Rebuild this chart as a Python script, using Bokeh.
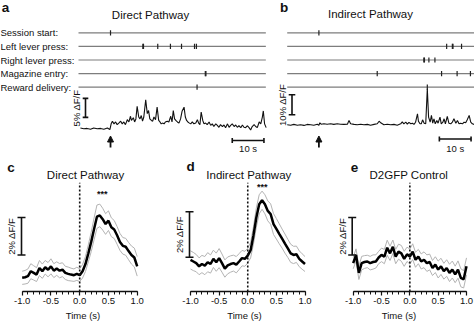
import math
from bokeh.plotting import figure
from bokeh.layouts import row, column
from bokeh.models import Range1d, Arrow, NormalHead, SingleIntervalTicker, PrintfTickFormatter
from bokeh.core.properties import value
from bokeh.embed import file_html
from bokeh.resources import INLINE

# ---------------- data ----------------
event_names = ["Session start:", "Left lever press:", "Right lever press:",
               "Magazine entry:", "Reward delivery:"]
session_len = 59.1  # s

# panel a events (s)
a_session = [10.1]
a_left = [20.3, 20.5, 25.0, 29.0, 32.5, 36.6, 37.2]
a_right = []
a_magazine = [40.0, 40.2]
a_reward = [37.4]

# panel b events (s)
b_session = [10.0]
b_left = [50.3, 52.1, 52.3, 55.0]
b_right = [43.1, 43.3, 44.7, 46.6]
b_magazine = [28.4, 48.7, 53.6, 57.8]
b_reward = [44.2]

# panel a photometry trace (time s, dF/F %)
trace_a_t = [0.6, 1.7, 2.7, 3.8, 4.8, 5.9, 7.0, 8.0, 9.1, 9.9,
             10.3, 10.7, 11.2, 11.7, 12.2, 12.7, 13.3, 13.8, 14.3, 14.8,
             15.4, 15.9, 16.4, 16.7, 17.3, 17.7, 18.1, 18.5, 19.0, 19.4,
             19.8, 20.2, 20.6, 21.2, 21.7, 22.1, 22.5, 23.0, 23.4, 23.8,
             24.3, 24.8, 25.3, 25.7, 26.1, 26.5, 27.0, 27.4, 28.0, 28.5,
             29.1, 29.5, 29.9, 30.3, 30.7, 31.2, 31.7, 32.2, 32.7, 33.3,
             33.7, 34.1, 34.5, 35.0, 35.4, 35.9, 36.4, 37.0, 37.5, 37.9,
             38.3, 38.7, 39.2, 39.6, 40.1, 40.6, 41.2, 41.7, 42.2, 42.7,
             43.3, 43.8, 44.3, 44.8, 45.4, 45.9, 46.4, 47.0, 47.5, 48.0,
             48.5, 49.1, 49.6, 50.1, 50.6, 51.2, 51.7, 52.2, 52.7, 53.3,
             53.8, 54.3, 54.8, 55.4, 55.9, 56.4, 57.0, 57.5, 58.0, 58.3,
             58.7, 59.2]
trace_a_v = [0.2, 0.0, 0.1, -0.1, 0.2, 0.0, 0.1, -0.1, 0.2, -0.2,
             1.3, 2.0, 1.3, 1.8, 1.1, 1.5, 2.0, 1.3, 1.8, 1.1,
             2.4, 1.8, 3.3, 2.2, 2.9, 1.8, 2.6, 5.9, 3.1, 2.6,
             3.5, 2.0, 3.1, 7.6, 4.0, 4.8, 2.6, 2.2, 2.0, 3.1,
             2.4, 5.7, 2.2, 1.8, 1.3, 1.5, 1.3, 1.8, 2.0, 1.8,
             3.3, 1.8, 4.8, 2.6, 2.2, 1.8, 1.5, 2.6, 4.7, 5.7,
             3.1, 2.2, 1.8, 1.5, 1.3, 1.8, 1.3, 1.5, 2.4, 1.5,
             1.1, 4.4, 2.2, 1.3, 1.5, 1.1, 1.8, 0.9, 1.3, 0.6,
             1.3, 0.9, 0.4, 1.1, 0.6, 1.0, 0.3, 1.3, 0.4, 0.9,
             1.3, 0.6, 1.0, 0.4, 0.8, 0.3, 1.0, 0.4, 0.3, 0.8,
             0.3, -0.3, 0.6, 1.1, 0.6, 0.3, 1.8, 1.3, 3.1, 4.7,
             1.3, 0.3]

# panel b photometry trace (time s, dF/F %)
trace_b_t = [0.0, 1.1, 2.1, 3.2, 4.2, 5.3, 6.3, 7.4, 8.4, 9.5,
             10.0, 10.3, 10.7, 11.6, 12.6, 13.7, 14.7, 15.8, 16.8, 17.9,
             19.0, 19.5, 20.0, 21.1, 22.1, 23.2, 24.2, 25.3, 26.3, 27.4,
             28.4, 29.0, 29.5, 30.0, 30.5, 31.6, 32.6, 33.7, 34.7, 35.8,
             36.3, 36.8, 37.4, 37.9, 38.4, 39.0, 39.5, 40.0, 40.5, 41.1,
             41.4, 41.9, 42.3, 42.7, 43.2, 43.7, 44.2, 44.6, 45.1, 45.5,
             45.9, 46.3, 46.7, 47.2, 47.6, 48.2, 48.6, 49.1, 49.5, 49.9,
             50.5, 51.0, 51.6, 52.1, 52.6, 53.2, 53.7, 54.2, 54.7, 55.3,
             55.8, 56.3, 56.8, 57.4, 57.9, 58.4, 59.0]
trace_b_v = [0.0, -0.2, 0.2, -0.2, 0.0, -0.3, 0.2, 0.0, -0.2, 0.3,
             -0.2, 1.0, 0.3, 0.5, 0.3, 0.5, 0.2, 0.5, 0.3, 0.2,
             0.3, 2.2, 0.5, 0.2, 0.0, 0.3, 0.0, 0.2, -0.2, 0.2,
             0.5, 1.8, 1.0, 0.5, 0.0, 0.3, 0.0, 0.2, -0.2, 0.5,
             1.5, 0.5, 1.3, 0.3, 1.2, 0.5, 0.8, 0.2, 1.3, 5.5,
             1.8, 0.5, 0.5, 2.5, 0.8, 0.5, 18.0, 3.8, 1.3, 4.7,
             0.8, 3.0, 0.5, 2.2, 0.8, 3.8, 0.5, 1.3, 3.0, 0.5,
             4.2, 0.8, 0.5, 1.3, 3.0, 0.8, 2.2, 0.5, 0.8, 0.5,
             1.3, 1.0, 2.5, 4.7, 1.3, 0.5, 0.2]

# peri-event averages (time s, dF/F %)
peri_t = [-1.0, -0.95, -0.9, -0.85, -0.8, -0.75, -0.7, -0.65, -0.6, -0.55,
          -0.5, -0.45, -0.4, -0.35, -0.3, -0.25, -0.2, -0.15, -0.1, -0.05,
          0.0, 0.05, 0.1, 0.15, 0.2, 0.25, 0.3, 0.35, 0.4, 0.45,
          0.5, 0.55, 0.6, 0.65, 0.7, 0.75, 0.8, 0.85, 0.9, 0.95, 1.0]
mean_c = [-0.26, -0.23, -0.17, 0.09, 0.0, -0.09, 0.26, 0.09, 0.30, 0.17,
          0.35, 0.12, 0.23, 0.12, 0.17, 0.0, -0.05, -0.09, -0.12, -0.05,
          -0.12, 0.09, 0.47, 1.04, 1.65, 2.34, 2.99, 3.06, 2.86, 2.60,
          2.78, 2.43, 2.31, 2.00, 1.65, 1.44, 1.39, 1.16, 0.95, 0.82, 0.35]
sem_c = [0.35, 0.36, 0.38, 0.40, 0.38, 0.37, 0.40, 0.38, 0.36, 0.38,
         0.40, 0.37, 0.36, 0.38, 0.37, 0.35, 0.36, 0.34, 0.33, 0.35,
         0.34, 0.36, 0.40, 0.45, 0.52, 0.58, 0.62, 0.60, 0.58, 0.55,
         0.52, 0.50, 0.48, 0.47, 0.45, 0.44, 0.45, 0.46, 0.48, 0.50, 0.52]
mean_d = [0.14, 0.07, 0.0, -0.14, -0.04, -0.11, 0.04, -0.04, 0.19, 0.04,
          0.22, 0.0, -0.24, -0.10, -0.04, 0.0, -0.07, 0.07, 0.22, 0.19,
          0.33, 0.57, 1.22, 2.01, 2.59, 2.77, 2.59, 2.30, 2.16, 1.72,
          1.51, 1.29, 1.08, 0.86, 0.65, 0.43, 0.36, 0.39, 0.19, 0.07, -0.04]
sem_d = [0.40, 0.40, 0.38, 0.37, 0.38, 0.40, 0.42, 0.40, 0.38, 0.40,
         0.42, 0.40, 0.38, 0.37, 0.36, 0.35, 0.36, 0.35, 0.34, 0.33,
         0.32, 0.34, 0.38, 0.42, 0.42, 0.40, 0.42, 0.44, 0.45, 0.46,
         0.45, 0.44, 0.42, 0.42, 0.40, 0.40, 0.38, 0.36, 0.35, 0.34, 0.33]
mean_e = [-0.09, 0.35, -0.61, -0.09, -0.03, 0.0, -0.09, -0.03, 0.0, 0.21,
          0.35, 0.26, 0.73, 0.43, 0.78, 0.26, 0.52, 0.43, 0.14, 0.38,
          0.26, 0.52, 0.09, 0.26, 0.0, 0.09, -0.09, -0.03, -0.35, -0.17,
          -0.43, -0.26, -0.52, -0.35, -0.61, -0.43, -0.69, -0.43, -0.87, -0.95, -0.26]
sem_e = [0.30, 0.32, 0.35, 0.36, 0.34, 0.33, 0.36, 0.38, 0.35, 0.33,
         0.36, 0.38, 0.40, 0.38, 0.36, 0.38, 0.40, 0.42, 0.40, 0.38,
         0.40, 0.42, 0.40, 0.38, 0.40, 0.42, 0.44, 0.42, 0.40, 0.42,
         0.45, 0.43, 0.42, 0.44, 0.46, 0.45, 0.44, 0.46, 0.48, 0.46, 0.45]

# ---------------- helpers ----------------
FONT = "Liberation Sans"
INK = "#111111"
F_TITLE = 11.5
F_LABEL = 9.5
F_LETTER = 13.5


def make_fig(left, top, w, h, x0, sx, y0, sy, bottom_border=0, axis=False):
    fh = h - bottom_border
    xr = Range1d((left - x0) / sx, (left + w - x0) / sx)
    yr = Range1d((y0 - (top + fh)) / sy, (y0 - top) / sy)
    p = figure(width=w, height=h, x_range=xr, y_range=yr,
               output_backend="svg", toolbar_location=None,
               min_border_left=0, min_border_right=0, min_border_top=0,
               min_border_bottom=bottom_border,
               x_axis_type="linear" if axis else None, y_axis_type=None)
    p.outline_line_color = None
    p.xgrid.visible = False
    p.ygrid.visible = False
    p.background_fill_color = "white"
    p.border_fill_color = "white"

    def X(gx):
        return (gx - x0) / sx

    def Y(gy):
        return (y0 - gy) / sy
    return p, X, Y


def txt(p, x, y, s, size, align="center", baseline="middle", bold=False,
        angle=0.0, y_range_name="default"):
    p.text(x=[x], y=[y], text=[s], text_font=value(FONT),
           text_font_size=f"{size}px", text_align=align,
           text_baseline=baseline, angle=angle,
           text_font_style="bold" if bold else "normal",
           text_color=INK, y_range_name=y_range_name)


def vbar_scale(p, x, lo, hi, cap):
    p.segment(x0=[x, x - cap, x - cap], y0=[lo, lo, hi],
              x1=[x, x + cap, x + cap], y1=[hi, lo, hi],
              line_color=INK, line_width=1.6)


def hbar_scale(p, lo, hi, y, cap):
    p.segment(x0=[lo, lo, hi], y0=[y, y - cap, y - cap],
              x1=[hi, lo, hi], y1=[y, y + cap, y + cap],
              line_color=INK, line_width=1.6)


ROW_Y0, ROW_DY = 32.3, 13.6  # px of first row, px between rows


def top_panel(left, w, x0, y0, sy, events, trace_t, trace_v, letter, letter_px,
              title, title_px, bar_px, bar_lo, bar_pct, bar_label, bar_cap_px,
              tbar_lo, tbar_y_px, with_names):
    p, X, Y = make_fig(left, 0, w, 152, x0, 3.17, y0, sy)
    p.extra_y_ranges = {"ev": Range1d((152 - ROW_Y0) / ROW_DY, (0 - ROW_Y0) / ROW_DY)}
    rows = list(range(len(event_names)))
    p.segment(x0=[0] * len(rows), x1=[session_len] * len(rows), y0=rows, y1=rows,
              y_range_name="ev", line_color="#7d7d7d", line_width=1.2)
    for k, times in enumerate(events):
        if times:
            p.segment(x0=times, x1=times, y0=[k - 0.19] * len(times),
                      y1=[k + 0.19] * len(times), y_range_name="ev",
                      line_color="#222222", line_width=1.2)
    if with_names:
        p.text(x=[X(0)] * len(rows), y=rows, text=event_names,
               text_font=value(FONT), text_font_size=f"{F_LABEL}px",
               text_align="left", text_baseline="middle",
               text_color=INK, y_range_name="ev")
    p.line(trace_t, trace_v, line_color="#111111", line_width=1.1)
    txt(p, X(letter_px[0]), Y(letter_px[1]), letter, F_LETTER, bold=True)
    txt(p, X(title_px[0]), Y(title_px[1]), title, F_TITLE)
    # dF/F scale bar
    bx = X(bar_px)
    vbar_scale(p, bx, bar_lo, bar_lo + bar_pct, bar_cap_px / 3.17)
    txt(p, X(bar_px - 9.5), bar_lo + bar_pct / 2, bar_label, F_LABEL, angle=math.pi / 2)
    # 10 s bar
    hbar_scale(p, tbar_lo, tbar_lo + 10, Y(tbar_y_px), 2.6 / sy)
    txt(p, tbar_lo + 5, Y(147.5), "10 s", F_LABEL)
    # arrow at session start
    t_arrow = events[0][0]
    p.add_layout(Arrow(end=NormalHead(size=6, fill_color=INK, line_color=INK, line_width=1),
                       x_start=t_arrow, y_start=Y(147), x_end=t_arrow, y_end=Y(135.5),
                       line_color=INK, line_width=1.8))
    return p


pa = top_panel(0, 270, 78.0, 128.3, 3.8,
               [a_session, a_left, a_right, a_magazine, a_reward],
               trace_a_t, trace_a_v, "a", (5, 7), "Direct Pathway", (150, 14),
               85.0, 3.0, 5.0, "5% \u0394F/F", 2.8, 48.5, 140.0, True)
pb = top_panel(270, 204, 286.7, 124.3, 2.0,
               [b_session, b_left, b_right, b_magazine, b_reward],
               trace_b_t, trace_b_v, "b", (283.7, 7), "Indirect Pathway", (370, 13.5),
               291.5, 5.0, 10.0, "10% \u0394F/F", 3.3, 48.0, 138.5, False)


def bottom_panel(left, w, x0, sx, y0, sy, mean, sem, letter, letter_px, title,
                 title_px, stars_px, bar_px, bar_lo):
    p, X, Y = make_fig(left, 152, w, 171, x0, sx, y0, sy, bottom_border=29, axis=True)
    ax = p.xaxis[0]
    ax.bounds = (-1, 1)
    ax.ticker = SingleIntervalTicker(interval=0.5, num_minor_ticks=5)
    ax.formatter = PrintfTickFormatter(format="%.1f")
    ax.major_tick_in = 0
    ax.major_tick_out = 4
    ax.minor_tick_in = 0
    ax.minor_tick_out = 3
    ax.axis_line_width = 1.5
    ax.axis_line_color = INK
    ax.major_tick_line_color = INK
    ax.minor_tick_line_color = INK
    ax.major_tick_line_width = 1.2
    ax.minor_tick_line_width = 1.0
    ax.major_label_text_font = FONT
    ax.major_label_text_font_size = f"{F_LABEL}px"
    ax.major_label_text_color = INK
    ax.major_label_standoff = 2
    ax.axis_label = "Time (s)"
    ax.axis_label_text_font = FONT
    ax.axis_label_text_font_size = f"{F_LABEL}px"
    ax.axis_label_text_font_style = "normal"
    ax.axis_label_text_color = INK
    ax.axis_label_standoff = 3
    upper = [m + s for m, s in zip(mean, sem)]
    lower = [m - s for m, s in zip(mean, sem)]
    p.line(peri_t, upper, line_color="#b3b3b3", line_width=1.0)
    p.line(peri_t, lower, line_color="#b3b3b3", line_width=1.0)
    p.line(peri_t, mean, line_color="black", line_width=2.5)
    # event onset
    p.segment(x0=[0], x1=[0], y0=[p.y_range.start], y1=[Y(183)],
              line_color=INK, line_width=1.6, line_dash="2 2")
    txt(p, X(letter_px[0]), Y(letter_px[1]), letter, F_LETTER, bold=True)
    txt(p, X(title_px[0]), Y(title_px[1]), title, F_TITLE)
    if stars_px:
        txt(p, X(stars_px[0]), Y(stars_px[1]), "***", 9, bold=True)
    vbar_scale(p, X(bar_px), bar_lo, bar_lo + 2.0, 4.0 / sx)
    txt(p, X(bar_px - 10), bar_lo + 1.0, "2% \u0394F/F", F_LABEL, angle=math.pi / 2)
    return p


pc = bottom_panel(0, 165, 79.2, 57.5, 275.0, 19.2, mean_c, sem_c, "c", (10.5, 167),
                  "Direct Pathway", (85, 174.5), (101.7, 194.5), 21.0, 0.95)
pd_ = bottom_panel(165, 158, 247.25, 57.25, 265.0, 23.2, mean_d, sem_d, "d", (190, 166.5),
                   "Indirect Pathway", (248.3, 175.3), (261.7, 187.5), 189.0, 0.26)
pe = bottom_panel(323, 151, 409.35, 56.65, 263.3, 19.2, mean_e, sem_e, "e", (354, 167.5),
                  "D2GFP Control", (408.3, 175), None, 351.7, 0.34)

layout = column(row(pa, pb), row(pc, pd_, pe))
open("out.html", "w").write(file_html(layout, INLINE))
